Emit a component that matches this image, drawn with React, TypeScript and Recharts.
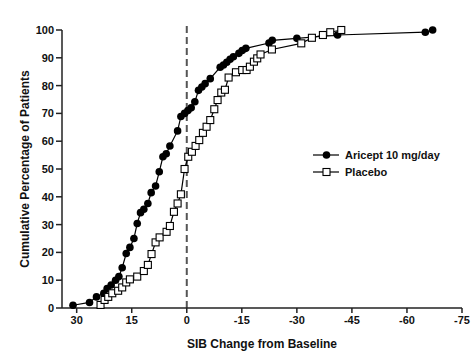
import React from 'react'
import {
  LineChart,
  Line,
  XAxis,
  YAxis,
  ReferenceLine,
} from 'recharts'

// SIB change from baseline (positive = worse) and cumulative % of patients
const ariceptChange = [
  31, 26.5, 24.6, 22.6, 21.7, 20.6, 19.4, 18.5, 17.6, 16.5, 15.5, 14.4, 13.5, 12.6, 11.7, 10.6,
  9.7, 8.5, 7.5, 6.5, 5.6, 4.6, 2.5, 1.6, 0.6, -0.3, -1.2, -2.2, -3.2, -4.1, -5.0, -6.4, -9.1,
  -10, -10.9, -11.8, -12.7, -14.2, -15.1, -16.1, -22.4, -23.3, -30, -41.1, -65, -67,
]
const ariceptPct = [
  1, 2, 4, 5.3, 7, 8.3, 10, 11.3, 14.5, 19.6, 21.8, 25, 30.4, 34.3, 35.5, 37.6,
  41.5, 43.9, 49, 54.4, 55.5, 58.3, 63.7, 68.9, 70, 71, 72, 74.2, 78.3, 79.5, 80.7, 82.5, 86.6,
  87.4, 88.4, 89.5, 90.4, 91.6, 92.6, 93.4, 95.3, 96.3, 97, 98.2, 99.2, 100,
]

const placeboChange = [
  23.5, 22.4, 21.4, 20.3, 18.7, 17.6, 16.5, 15.5, 13.5, 11.7, 10.6, 9.6, 8.5, 7.4, 5.5, 4.6,
  3.5, 2.5, 1.6, 0.6, -0.4, -1.4, -2.4, -3.4, -4.4, -5.4, -6.4, -7.5, -8.4, -9.4, -10.4, -11.4,
  -13.4, -15.1, -16.3, -17.2, -18.3, -19.2, -20.1, -23.2, -31.2, -34.1, -37.1, -39.1, -42.1,
]
const placeboPct = [
  1.1, 2.9, 4, 5.3, 6.2, 7.4, 9.2, 10.3, 11.3, 13.3, 15.5, 19.4, 23.6, 25.4, 27.4, 29.5,
  34.6, 37.6, 40.9, 50, 54.4, 56.2, 58.3, 60.4, 63, 65.2, 67.6, 71.5, 74.8, 77.5, 78.5, 82.9,
  84.8, 85.6, 85.6, 86.8, 88.6, 89.8, 91.2, 93, 95.2, 97.2, 98.2, 99.2, 100,
]

const xTicks = [30, 15, 0, -15, -30, -45, -60, -75]
const yTicks = [0, 10, 20, 30, 40, 50, 60, 70, 80, 90, 100]

const ariceptData = ariceptChange.map((x, i) => ({ x, y: ariceptPct[i] }))
const placeboData = placeboChange.map((x, i) => ({ x, y: placeboPct[i] }))

const font = '"Liberation Sans", Arial, sans-serif'
const tickStyle = { fill: '#111', fontSize: 11, fontWeight: 700, fontFamily: font }
const axisColor = '#222'

const SquareDot = (props: any) => {
  const { cx, cy, index } = props
  if (cx == null || cy == null) return null
  return (
    <rect
      key={`sq-${index}`}
      x={cx - 3.5}
      y={cy - 3.5}
      width={7}
      height={7}
      fill="#fff"
      stroke="#000"
      strokeWidth={1.1}
    />
  )
}

function LegendRow({ label, square }: { label: string; square?: boolean }) {
  return (
    <div style={{ display: 'flex', alignItems: 'center', height: 17 }}>
      <svg width={32} height={10}>
        <line x1={0} y1={5} x2={26} y2={5} stroke="#000" strokeWidth={1.2} />
        {square ? (
          <rect x={10} y={1.5} width={7} height={7} fill="#fff" stroke="#000" strokeWidth={1.1} />
        ) : (
          <circle cx={13.5} cy={5} r={3.8} fill="#000" />
        )}
      </svg>
      <span style={{ fontFamily: font, fontWeight: 700, fontSize: 11, color: '#111' }}>{label}</span>
    </div>
  )
}

export default function App() {
  return (
    <div style={{ position: 'absolute', left: 0, top: 0, width: 472, height: 354, background: '#fff' }}>
      <LineChart
        width={472}
        height={354}
        margin={{ top: 30, right: 10, left: 0, bottom: 0 }}
      >
        <XAxis
          type="number"
          dataKey="x"
          domain={[-75, 34]}
          reversed
          allowDataOverflow
          ticks={xTicks}
          interval={0}
          height={46}
          tick={tickStyle}
          tickSize={5}
          tickMargin={3}
          stroke={axisColor}
          strokeWidth={1.5}
          label={{
            value: 'SIB Change from Baseline',
            position: 'insideBottom',
            offset: 6,
            style: { fill: '#111', fontSize: 12, fontWeight: 700, fontFamily: font },
          }}
        />
        <YAxis
          type="number"
          dataKey="y"
          domain={[0, 100]}
          ticks={yTicks}
          interval={0}
          width={62}
          tick={tickStyle}
          tickSize={6}
          tickMargin={2}
          stroke={axisColor}
          strokeWidth={1.5}
          label={{
            value: 'Cumulative Percentage of Patients',
            angle: -90,
            position: 'insideLeft',
            offset: 25,
            style: { textAnchor: 'middle', fill: '#111', fontSize: 12, fontWeight: 700, fontFamily: font },
          }}
        />
        <ReferenceLine
          segment={[{ x: 0, y: 0 }, { x: 0, y: 101.5 }]}
          ifOverflow="visible"
          stroke="#555"
          strokeWidth={2}
          strokeDasharray="7 4"
        />
        <Line
          data={ariceptData}
          dataKey="y"
          type="linear"
          stroke="#000"
          strokeWidth={1.2}
          dot={{ r: 3.8, fill: '#000', stroke: '#000', strokeWidth: 0 }}
          activeDot={false}
          isAnimationActive={false}
        />
        <Line
          data={placeboData}
          dataKey="y"
          type="linear"
          stroke="#000"
          strokeWidth={1.2}
          dot={SquareDot}
          activeDot={false}
          isAnimationActive={false}
        />
      </LineChart>
      <div style={{ position: 'absolute', left: 313, top: 146 }}>
        <LegendRow label="Aricept 10 mg/day" />
        <LegendRow label="Placebo" square />
      </div>
    </div>
  )
}
